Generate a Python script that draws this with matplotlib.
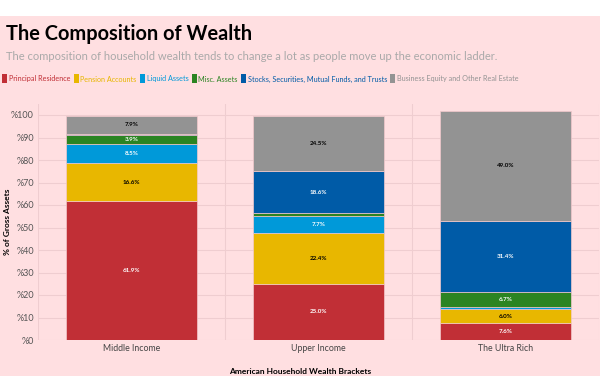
import numpy as np
import matplotlib
matplotlib.use("Agg")
from matplotlib import pyplot as plt
from matplotlib.patches import Rectangle

plt.rcParams['font.family'] = ['Lato', 'DejaVu Sans']

brackets = ['Middle Income', 'Upper Income', 'The Ultra Rich']
categories = ['Principal Residence', 'Pension Accounts', 'Liquid Assets', 'Misc. Assets',
              'Stocks, Securities, Mutual Funds, and Trusts', 'Business Equity and Other Real Estate']
colors = ['#c12f36', '#e8b700', '#0099d9', '#2b8422', '#005ba7', '#939393']
label_colors = ['white', 'black', 'white', 'white', 'white', 'black']

principal = [61.9, 25.0, 7.6]
pension = [16.6, 22.4, 6.0]
liquid = [8.5, 7.7, 1.2]
misc = [3.9, 1.3, 6.7]
stocks = [0.8, 18.6, 31.4]
business = [7.9, 24.5, 49.0]
series = [principal, pension, liquid, misc, stocks, business]
yticks = [0, 10, 20, 30, 40, 50, 60, 70, 80, 90, 100]

W, H = 600, 392
fig = plt.figure(figsize=(6, 3.92), dpi=100)
fig.patch.set_facecolor('white')
bg = '#ffdfe1'
fig.patches.append(Rectangle((0, 1 - 376 / H), 1, (376 - 16) / H, transform=fig.transFigure,
                             facecolor=bg, edgecolor='none', zorder=-10))

ax = fig.add_axes([38 / W, 1 - 340 / H, 561 / W, (340 - 103.75) / H])
ax.set_facecolor(bg)
x = np.arange(len(brackets))
bottom = np.zeros(len(brackets))
for vals, c, lc in zip(series, colors, label_colors):
    vals = np.array(vals)
    ax.bar(x, vals, 0.7, bottom=bottom, color=c, edgecolor='#f3c9cc', linewidth=0.5, zorder=3)
    for xi, v, b in zip(x, vals, bottom):
        if v >= 3:
            ax.text(xi, b + v / 2, '%.1f%%' % v, ha='center', va='center', fontsize=4.5,
                    fontweight='bold', color=lc, zorder=4)
    bottom += vals

ax.set_xlim(-0.5, 2.5)
ax.set_ylim(0, 105)
ax.set_yticks(yticks)
ax.set_yticklabels(['%%%d' % t for t in yticks], fontsize=6.5, color='#555555')
ax.set_xticks(x)
ax.set_xticklabels(brackets, fontsize=6.3, color='#444444')
ax.set_xticks([-0.5, 0.5, 1.5, 2.5], minor=True)
ax.tick_params(length=0, pad=3)
ax.tick_params(which='minor', length=0)
ax.grid(axis='y', color='#efcdd0', linewidth=0.8, zorder=0)
ax.grid(axis='x', which='minor', color='#efcdd0', linewidth=0.8, zorder=0)
for s in ax.spines.values():
    s.set_visible(False)
ax.set_ylabel('% of Gross Assets', fontsize=6, fontweight='bold')
ax.yaxis.set_label_coords(-27 / 561, 0.5)
ax.set_xlabel('American Household Wealth Brackets', fontsize=6, fontweight='bold')
ax.xaxis.set_label_coords((300 - 38) / 561, -28 / 236.25)

fig.canvas.draw()
r = fig.canvas.get_renderer()


def fit(t, width):
    t.set_fontsize(t.get_fontsize() * width / t.get_window_extent(r).width)


title = fig.text(6 / W, 1 - 34 / H, 'The Composition of Wealth', fontsize=17, fontweight='bold',
                 va='center', ha='left', color='black')
fit(title, 246)
sub = fig.text(6 / W, 1 - 57 / H, 'The composition of household wealth tends to change a lot as people move up the economic ladder.',
               fontsize=10.5, va='center', ha='left', color='#a9a9a9')
fit(sub, 494)

# legend row
xp = 2
yl = 79
for cat, c in zip(categories, colors):
    sq = Rectangle((xp / W, 1 - (yl + 3.5) / H), 5 / W, 8 / H, transform=fig.transFigure,
                   facecolor=c, edgecolor='none')
    fig.patches.append(sq)
    t = fig.text((xp + 7) / W, 1 - yl / H, cat, fontsize=5.2, color=c, va='center', ha='left')
    xp += 7 + t.get_window_extent(r).width + 3

fig.savefig('out.png', dpi=100)
